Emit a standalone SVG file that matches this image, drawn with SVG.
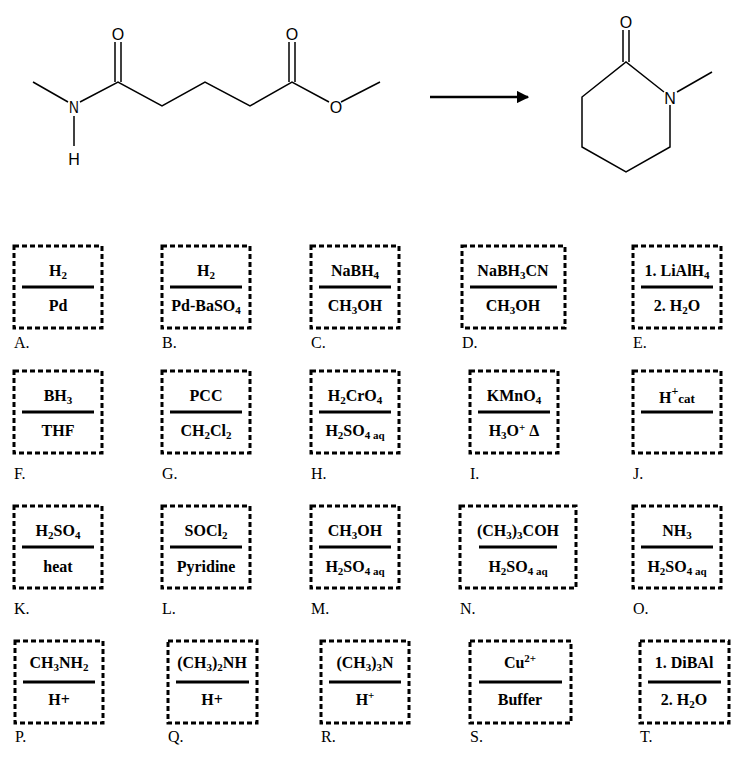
<svg xmlns="http://www.w3.org/2000/svg" width="756" height="770" viewBox="0 0 756 770">
<style>
.b{fill:none;stroke:#000;stroke-width:3;stroke-dasharray:5 3}
.d{stroke:#000;stroke-width:3}
.t{font-family:"Liberation Serif",serif;font-weight:bold;font-size:16px;text-anchor:middle}
.s{font-size:11px}
.l{font-family:"Liberation Serif",serif;font-size:16px}
.m{fill:none;stroke:#000;stroke-width:1.5}
.a{font-family:"Liberation Sans",sans-serif;font-size:16px;text-anchor:middle}
</style>
<defs><marker id="ar" viewBox="0 0 10 10" refX="9" refY="5" markerWidth="5" markerHeight="5" orient="auto"><path d="M0,0 L10,5 L0,10 Z"/></marker></defs>
<rect width="756" height="770" fill="#fff"/>
<g id="reactant">
<polyline class="m" points="33,82 68,102"/>
<polyline class="m" points="80,102 118,82 162,106 205,82 250,106 292,82 329,102"/>
<line class="m" x1="341" y1="102" x2="380" y2="82"/>
<line class="m" x1="74" y1="116" x2="74" y2="146"/>
<line class="m" x1="115" y1="82" x2="115" y2="42"/><line class="m" x1="121" y1="82" x2="121" y2="42"/>
<line class="m" x1="289" y1="82" x2="289" y2="42"/><line class="m" x1="295" y1="82" x2="295" y2="42"/>
<text class="a" x="74" y="113" transform="translate(74,0) scale(0.85,1) translate(-74,0)">N</text>
<text class="a" x="74" y="165">H</text>
<text class="a" x="118" y="40">O</text><text class="a" x="292" y="40">O</text><text class="a" x="336" y="113">O</text>
</g>
<g id="connectors"><line x1="430" y1="97" x2="528" y2="97" stroke="#000" stroke-width="2.5" marker-end="url(#ar)"/></g>
<g id="product">
<polyline class="m" points="664,92 626,62 582,97 582,147 626,172 670,147 670,105"/>
<line class="m" x1="677" y1="92" x2="712" y2="72"/>
<line class="m" x1="623" y1="62" x2="623" y2="30"/><line class="m" x1="629" y1="62" x2="629" y2="30"/>
<text class="a" x="670" y="104">N</text><text class="a" x="626" y="28">O</text>
</g>
<g id="A"><rect class="b" x="14" y="246" width="88" height="82"/><line class="d" x1="22" y1="287" x2="94" y2="287"/><text class="t" x="58" y="276">H<tspan class="s" dy="3">2</tspan></text><text class="t" x="58" y="311">Pd</text><text class="l" x="14" y="348">A.</text></g>
<g id="B"><rect class="b" x="162" y="246" width="88" height="82"/><line class="d" x1="170" y1="287" x2="242" y2="287"/><text class="t" x="206" y="276">H<tspan class="s" dy="3">2</tspan></text><text class="t" x="206" y="311">Pd-BaSO<tspan class="s" dy="3">4</tspan></text><text class="l" x="162" y="348">B.</text></g>
<g id="C"><rect class="b" x="311" y="246" width="88" height="82"/><line class="d" x1="319" y1="287" x2="391" y2="287"/><text class="t" x="355" y="276">NaBH<tspan class="s" dy="3">4</tspan></text><text class="t" x="355" y="311">CH<tspan class="s" dy="3">3</tspan><tspan dy="-3">OH</tspan></text><text class="l" x="311" y="348">C.</text></g>
<g id="D"><rect class="b" x="462" y="246" width="103" height="82"/><line class="d" x1="470" y1="287" x2="557" y2="287"/><text class="t" x="513" y="276">NaBH<tspan class="s" dy="3">3</tspan><tspan dy="-3">CN</tspan></text><text class="t" x="513" y="311">CH<tspan class="s" dy="3">3</tspan><tspan dy="-3">OH</tspan></text><text class="l" x="462" y="348">D.</text></g>
<g id="E"><rect class="b" x="633" y="246" width="88" height="82"/><line class="d" x1="641" y1="287" x2="713" y2="287"/><text class="t" x="677" y="276">1. LiAlH<tspan class="s" dy="3">4</tspan></text><text class="t" x="677" y="311">2. H<tspan class="s" dy="3">2</tspan><tspan dy="-3">O</tspan></text><text class="l" x="633" y="348">E.</text></g>

<g id="F"><rect class="b" x="14" y="371" width="88" height="82"/><line class="d" x1="22" y1="412" x2="94" y2="412"/><text class="t" x="58" y="401">BH<tspan class="s" dy="3">3</tspan></text><text class="t" x="58" y="436">THF</text><text class="l" x="14" y="479">F.</text></g>
<g id="G"><rect class="b" x="162" y="371" width="88" height="82"/><line class="d" x1="170" y1="412" x2="242" y2="412"/><text class="t" x="206" y="401">PCC</text><text class="t" x="206" y="436">CH<tspan class="s" dy="3">2</tspan><tspan dy="-3">Cl</tspan><tspan class="s" dy="3">2</tspan></text><text class="l" x="162" y="479">G.</text></g>
<g id="H"><rect class="b" x="311" y="371" width="88" height="82"/><line class="d" x1="319" y1="412" x2="391" y2="412"/><text class="t" x="355" y="401">H<tspan class="s" dy="3">2</tspan><tspan dy="-3">CrO</tspan><tspan class="s" dy="3">4</tspan></text><text class="t" x="355" y="436">H<tspan class="s" dy="3">2</tspan><tspan dy="-3">SO</tspan><tspan class="s" dy="3">4 aq</tspan></text><text class="l" x="311" y="479">H.</text></g>
<g id="I"><rect class="b" x="470" y="371" width="88" height="82"/><line class="d" x1="478" y1="412" x2="550" y2="412"/><text class="t" x="514" y="401">KMnO<tspan class="s" dy="3">4</tspan></text><text class="t" x="514" y="436">H<tspan class="s" dy="3">3</tspan><tspan dy="-3">O</tspan><tspan class="s" dy="-5">+</tspan><tspan dy="5"> Δ</tspan></text><text class="l" x="470" y="479">I.</text></g>
<g id="J"><rect class="b" x="633" y="371" width="88" height="82"/><line class="d" x1="641" y1="412" x2="713" y2="412"/><text class="t" x="677" y="403" font-size="19">H<tspan font-size="12" dy="-8">+</tspan><tspan font-size="13" dy="8">cat</tspan></text><text class="l" x="633" y="479">J.</text></g>

<g id="K"><rect class="b" x="14" y="506" width="88" height="82"/><line class="d" x1="22" y1="547" x2="94" y2="547"/><text class="t" x="58" y="536">H<tspan class="s" dy="3">2</tspan><tspan dy="-3">SO</tspan><tspan class="s" dy="3">4</tspan></text><text class="t" x="58" y="572">heat</text><text class="l" x="14" y="614">K.</text></g>
<g id="L"><rect class="b" x="162" y="506" width="88" height="82"/><line class="d" x1="170" y1="547" x2="242" y2="547"/><text class="t" x="206" y="536">SOCl<tspan class="s" dy="3">2</tspan></text><text class="t" x="206" y="572">Pyridine</text><text class="l" x="162" y="614">L.</text></g>
<g id="M"><rect class="b" x="311" y="506" width="88" height="82"/><line class="d" x1="319" y1="547" x2="391" y2="547"/><text class="t" x="355" y="536">CH<tspan class="s" dy="3">3</tspan><tspan dy="-3">OH</tspan></text><text class="t" x="355" y="572">H<tspan class="s" dy="3">2</tspan><tspan dy="-3">SO</tspan><tspan class="s" dy="3">4 aq</tspan></text><text class="l" x="311" y="614">M.</text></g>
<g id="N"><rect class="b" x="460" y="506" width="116" height="82"/><line class="d" x1="479" y1="547" x2="557" y2="547"/><text class="t" x="518" y="536">(CH<tspan class="s" dy="3">3</tspan><tspan dy="-3">)</tspan><tspan class="s" dy="3">3</tspan><tspan dy="-3">COH</tspan></text><text class="t" x="518" y="572">H<tspan class="s" dy="3">2</tspan><tspan dy="-3">SO</tspan><tspan class="s" dy="3">4 aq</tspan></text><text class="l" x="460" y="614">N.</text></g>
<g id="O"><rect class="b" x="633" y="506" width="88" height="82"/><line class="d" x1="641" y1="547" x2="713" y2="547"/><text class="t" x="677" y="536">NH<tspan class="s" dy="3">3</tspan></text><text class="t" x="677" y="572">H<tspan class="s" dy="3">2</tspan><tspan dy="-3">SO</tspan><tspan class="s" dy="3">4 aq</tspan></text><text class="l" x="633" y="614">O.</text></g>

<g id="P"><rect class="b" x="15" y="641" width="88" height="82"/><line class="d" x1="23" y1="682" x2="95" y2="682"/><text class="t" x="59" y="668">CH<tspan class="s" dy="3">3</tspan><tspan dy="-3">NH</tspan><tspan class="s" dy="3">2</tspan></text><text class="t" x="59" y="705">H+</text><text class="l" x="15" y="742">P.</text></g>
<g id="Q"><rect class="b" x="168" y="641" width="89" height="82"/><line class="d" x1="176" y1="682" x2="249" y2="682"/><text class="t" x="212" y="668">(CH<tspan class="s" dy="3">3</tspan><tspan dy="-3">)</tspan><tspan class="s" dy="3">2</tspan><tspan dy="-3">NH</tspan></text><text class="t" x="212" y="705">H+</text><text class="l" x="168" y="742">Q.</text></g>
<g id="R"><rect class="b" x="321" y="641" width="88" height="82"/><line class="d" x1="329" y1="682" x2="401" y2="682"/><text class="t" x="365" y="668">(CH<tspan class="s" dy="3">3</tspan><tspan dy="-3">)</tspan><tspan class="s" dy="3">3</tspan><tspan dy="-3">N</tspan></text><text class="t" x="365" y="705">H<tspan class="s" dy="-6">+</tspan></text><text class="l" x="321" y="742">R.</text></g>
<g id="S"><rect class="b" x="470" y="641" width="101" height="82"/><line class="d" x1="479" y1="682" x2="562" y2="682"/><text class="t" x="520" y="668">Cu<tspan class="s" dy="-6">2+</tspan></text><text class="t" x="520" y="705">Buffer</text><text class="l" x="470" y="742">S.</text></g>
<g id="T"><rect class="b" x="640" y="641" width="89" height="82"/><line class="d" x1="648" y1="682" x2="721" y2="682"/><text class="t" x="684" y="668">1. DiBAl</text><text class="t" x="684" y="705">2. H<tspan class="s" dy="3">2</tspan><tspan dy="-3">O</tspan></text><text class="l" x="640" y="742">T.</text></g>
</svg>
